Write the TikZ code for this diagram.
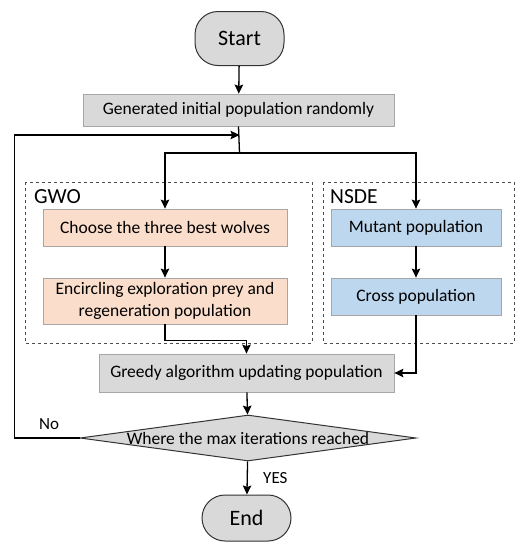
\documentclass[tikz,border=0pt]{standalone}
\usepackage{fontspec}
\setmainfont{Carlito}
\usepackage{xcolor}
\usepackage{tikz}
\usetikzlibrary{arrows,arrows.meta,shapes,positioning}

\definecolor{boxgray}{HTML}{D9D9D9}
\definecolor{wolfred}{HTML}{FBDDCB}
\definecolor{nsdeblue}{HTML}{BDD7EE}
\definecolor{edgegray}{HTML}{A6A6A6}

\tikzset{
  terminal/.style={draw=black!80, fill=boxgray, line width=1pt, rounded corners=23pt,
    minimum width=89pt, inner sep=0pt, font=\fontsize{22}{26}\selectfont},
  process/.style={draw=edgegray, fill=boxgray, line width=0.8pt, inner sep=0pt,
    minimum height=37pt, font=\fontsize{17.5}{22}\selectfont, align=center},
  decision/.style={diamond, draw=black!80, fill=boxgray, line width=1pt, inner sep=0pt,
    minimum width=336pt, minimum height=46pt},
  group/.style={draw=black!70, dashed, line width=0.8pt},
  grouplabel/.style={anchor=west, inner sep=0pt, font=\fontsize{21.5}{26}\selectfont},
  flow/.style={-{Stealth[length=9pt,width=8.5pt,inset=1.5pt]}, line width=1.3pt}
}

\begin{document}
\begin{tikzpicture}[x=1pt, y=-1pt]
    \useasboundingbox (0,0) rectangle (524,550);
    %groups
    \draw[group] (25,182) rectangle (312,343);
    \draw[group] (323,182) rectangle (514,343);
    \node[grouplabel] (gwo) at (34,197) {GWO};
    \node[grouplabel] (nsde) at (330,197) {NSDE};
    %nodes
    \node[terminal, minimum height=54pt] (start) at (239.5,38.5) {Start};
    \node[process, minimum width=311pt, minimum height=32pt] (init) at (238.5,110) {Generated initial population randomly};
    \node[process, fill=wolfred, minimum width=244pt] (choose) at (165,227.5) {Choose the three best wolves};
    \node[process, fill=wolfred, minimum width=244pt, minimum height=46pt] (encircle) at (165,301) {Encircling exploration prey and\\regeneration population};
    \node[process, fill=nsdeblue, minimum width=170pt] (mutant) at (416,227.5) {Mutant population};
    \node[process, fill=nsdeblue, minimum width=170pt] (cross) at (416,296.5) {Cross population};
    \node[process, minimum width=295pt, minimum height=38pt] (greedy) at (246.5,373) {Greedy algorithm updating population};
    \node[decision, label={[font=\fontsize{17.5}{22}\selectfont]center:Where the max iterations reached}] (check) at (248,438) {};
    \node[terminal, minimum height=46pt] (end) at (246.5,518) {End};
    \coordinate (join) at (239.5,135);
    \coordinate (split) at (239.5,153);
    %edges
    \draw[flow] (start) -- (init);
    \draw[line width=1.3pt] (init.south) -- (split);
    \draw[flow] (split) -| (choose.north);
    \draw[flow] (split) -| (mutant.north);
    \draw[flow] (choose) -- (encircle);
    \draw[flow] (mutant) -- (cross);
    \draw[flow] (encircle.south) -- ++(0,16) -| (greedy.north);
    \draw[flow] (cross.south) |- (greedy.east);
    \draw[flow] (greedy) -- (check);
    \draw[flow] (check.west) -- ++(-65,0) node[above right=8pt and 24pt, font=\fontsize{17}{20}\selectfont, inner sep=0pt] (no) {No} |- (join);
    \draw[flow] (check) -- node[right=12pt, font=\fontsize{17}{20}\selectfont] (yes) {YES} (end);
\end{tikzpicture}
\end{document}
